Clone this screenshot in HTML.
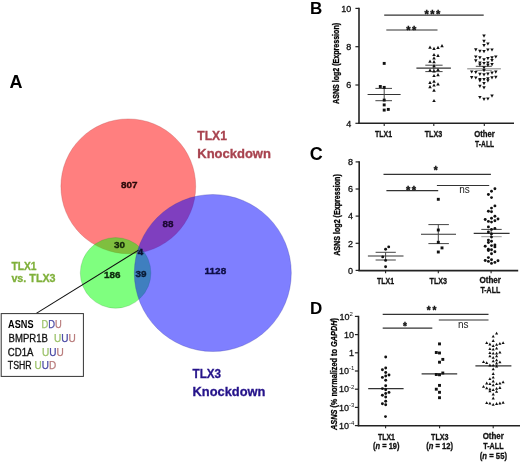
<!DOCTYPE html>
<html><head><meta charset="utf-8"><title>Figure</title>
<style>
html,body{margin:0;padding:0;background:#fff;}
body{width:520px;height:463px;overflow:hidden;}
svg{display:block;font-family:"Liberation Sans", Arial, sans-serif;}
</style></head><body>
<svg width="520" height="463" viewBox="0 0 520 463">
<rect width="520" height="463" fill="#fff"/>
<text x="9.6" y="87.7" font-size="18" font-weight="bold" fill="#000" text-anchor="start">A</text>
<circle cx="128.3" cy="186.3" r="67.4" fill="#ff0000" fill-opacity="0.5" stroke="#b04040" stroke-opacity="0.3" stroke-width="0.9"/>
<circle cx="115.6" cy="272.9" r="35.3" fill="#00ff00" fill-opacity="0.5" stroke="#309030" stroke-opacity="0.25" stroke-width="0.9"/>
<circle cx="212.8" cy="273" r="78.5" fill="#0000ff" fill-opacity="0.5" stroke="#3030a0" stroke-opacity="0.3" stroke-width="0.9"/>
<text x="129.3" y="187.85000000000002" font-size="9.9" font-weight="bold" fill="#2b0a0a" text-anchor="middle" stroke="#2b0a0a" stroke-width="0.35">807</text>
<text x="167.9" y="226.85000000000002" font-size="9.9" font-weight="bold" fill="#1c0833" text-anchor="middle" stroke="#1c0833" stroke-width="0.35">88</text>
<text x="215.4" y="274.15000000000003" font-size="9.9" font-weight="bold" fill="#0e0e45" text-anchor="middle" stroke="#0e0e45" stroke-width="0.35" textLength="21.6" lengthAdjust="spacingAndGlyphs">1128</text>
<text x="119.5" y="248.45000000000002" font-size="9.9" font-weight="bold" fill="#14260a" text-anchor="middle" stroke="#14260a" stroke-width="0.35">30</text>
<text x="140.6" y="255.25" font-size="9.9" font-weight="bold" fill="#0a1030" text-anchor="middle" stroke="#0a1030" stroke-width="0.35">4</text>
<text x="112.3" y="278.25" font-size="9.9" font-weight="bold" fill="#0c2a0c" text-anchor="middle" stroke="#0c2a0c" stroke-width="0.35">186</text>
<text x="141.0" y="277.05" font-size="9.9" font-weight="bold" fill="#0a1a33" text-anchor="middle" stroke="#0a1a33" stroke-width="0.35">39</text>
<text x="197.3" y="139.7" font-size="12" font-weight="bold" fill="#a8434f" text-anchor="start" stroke="#a8434f" stroke-width="0.3" textLength="29.6" lengthAdjust="spacingAndGlyphs">TLX1</text>
<text x="197.3" y="158.4" font-size="12" font-weight="bold" fill="#a8434f" text-anchor="start" stroke="#a8434f" stroke-width="0.3" textLength="73.6" lengthAdjust="spacingAndGlyphs">Knockdown</text>
<text x="11.4" y="269.5" font-size="10.8" font-weight="bold" fill="#7fb03a" text-anchor="start" stroke="#7fb03a" stroke-width="0.3" textLength="25.2" lengthAdjust="spacingAndGlyphs">TLX1</text>
<text x="11.4" y="282.3" font-size="10.8" font-weight="bold" fill="#7fb03a" text-anchor="start" stroke="#7fb03a" stroke-width="0.3" textLength="44.2" lengthAdjust="spacingAndGlyphs">vs. TLX3</text>
<text x="192.5" y="378.1" font-size="12.5" font-weight="bold" fill="#25138a" text-anchor="start" stroke="#25138a" stroke-width="0.3" textLength="28.6" lengthAdjust="spacingAndGlyphs">TLX3</text>
<text x="192.5" y="396.3" font-size="12.5" font-weight="bold" fill="#25138a" text-anchor="start" stroke="#25138a" stroke-width="0.3" textLength="73" lengthAdjust="spacingAndGlyphs">Knockdown</text>
<line x1="36.3" y1="313.4" x2="138.5" y2="250.1" stroke="#111" stroke-width="1.1"/>
<rect x="1.2" y="313.6" width="82.2" height="62.8" fill="#fff" stroke="#333" stroke-width="1"/>
<text x="8.1" y="328.3" font-size="10" font-weight="bold" fill="#000" text-anchor="start" textLength="25.4" lengthAdjust="spacingAndGlyphs">ASNS</text>
<text x="41.5" y="328.3" font-size="10" stroke-width="0.25" textLength="20.3" lengthAdjust="spacingAndGlyphs"><tspan fill="#9cc26a" stroke="#9cc26a">D</tspan><tspan fill="#4b4ba5" stroke="#4b4ba5">D</tspan><tspan fill="#b87b7b" stroke="#b87b7b">U</tspan></text>
<text x="8.6" y="341.8" font-size="10" font-weight="normal" fill="#111" text-anchor="start" stroke="#111" stroke-width="0.3" textLength="39.2" lengthAdjust="spacingAndGlyphs">BMPR1B</text>
<text x="54" y="341.8" font-size="10" stroke-width="0.25" textLength="21.8" lengthAdjust="spacingAndGlyphs"><tspan fill="#9cc26a" stroke="#9cc26a">U</tspan><tspan fill="#4b4ba5" stroke="#4b4ba5">U</tspan><tspan fill="#b87b7b" stroke="#b87b7b">U</tspan></text>
<text x="7.8" y="355.7" font-size="10" font-weight="normal" fill="#111" text-anchor="start" stroke="#111" stroke-width="0.3" textLength="25.6" lengthAdjust="spacingAndGlyphs">CD1A</text>
<text x="41.9" y="355.7" font-size="10" stroke-width="0.25" textLength="21.8" lengthAdjust="spacingAndGlyphs"><tspan fill="#9cc26a" stroke="#9cc26a">U</tspan><tspan fill="#4b4ba5" stroke="#4b4ba5">U</tspan><tspan fill="#b87b7b" stroke="#b87b7b">U</tspan></text>
<text x="7.8" y="369.0" font-size="10" font-weight="normal" fill="#111" text-anchor="start" stroke="#111" stroke-width="0.3" textLength="23.8" lengthAdjust="spacingAndGlyphs">TSHR</text>
<text x="34.6" y="369.0" font-size="10" stroke-width="0.25" textLength="21.6" lengthAdjust="spacingAndGlyphs"><tspan fill="#9cc26a" stroke="#9cc26a">U</tspan><tspan fill="#4b4ba5" stroke="#4b4ba5">U</tspan><tspan fill="#b87b7b" stroke="#b87b7b">D</tspan></text>
<text x="310.0" y="13.7" font-size="17" font-weight="bold" fill="#000" text-anchor="start">B</text>
<line x1="359" y1="7.800000000000001" x2="359" y2="123.89999999999999" stroke="#222" stroke-width="1.6"/>
<line x1="355.4" y1="8.4" x2="359" y2="8.4" stroke="#222" stroke-width="1.2"/>
<text x="351.2" y="11.600000000000001" font-size="9" text-anchor="end" fill="#111" stroke="#111" stroke-width="0.3">10</text>
<line x1="355.4" y1="46.7" x2="359" y2="46.7" stroke="#222" stroke-width="1.2"/>
<text x="351.2" y="49.900000000000006" font-size="9" text-anchor="end" fill="#111" stroke="#111" stroke-width="0.3">8</text>
<line x1="355.4" y1="85.0" x2="359" y2="85.0" stroke="#222" stroke-width="1.2"/>
<text x="351.2" y="88.2" font-size="9" text-anchor="end" fill="#111" stroke="#111" stroke-width="0.3">6</text>
<line x1="355.4" y1="123.3" x2="359" y2="123.3" stroke="#222" stroke-width="1.2"/>
<text x="351.2" y="126.5" font-size="9" text-anchor="end" fill="#111" stroke="#111" stroke-width="0.3">4</text>
<line x1="358.2" y1="123.3" x2="514" y2="123.3" stroke="#222" stroke-width="1.6"/>
<line x1="384.2" y1="123.3" x2="384.2" y2="125.89999999999999" stroke="#222" stroke-width="1.1"/>
<line x1="433.8" y1="123.3" x2="433.8" y2="125.89999999999999" stroke="#222" stroke-width="1.1"/>
<line x1="484.3" y1="123.3" x2="484.3" y2="125.89999999999999" stroke="#222" stroke-width="1.1"/>
<text transform="translate(339.4,63.4) rotate(-90)" x="0" y="0" font-size="8.3" font-weight="bold" stroke="#000" stroke-width="0.3" text-anchor="middle" textLength="81" lengthAdjust="spacingAndGlyphs">ASNS log2 (Expression)</text>
<text x="383.6" y="136.5" font-size="8.8" font-weight="bold" fill="#111" text-anchor="middle" stroke="#111" stroke-width="0.3" textLength="17" lengthAdjust="spacingAndGlyphs">TLX1</text>
<text x="433.5" y="136.5" font-size="8.8" font-weight="bold" fill="#111" text-anchor="middle" stroke="#111" stroke-width="0.3" textLength="17.5" lengthAdjust="spacingAndGlyphs">TLX3</text>
<text x="484.5" y="136.5" font-size="8.8" font-weight="bold" fill="#111" text-anchor="middle" stroke="#111" stroke-width="0.3" textLength="20.6" lengthAdjust="spacingAndGlyphs">Other</text>
<text x="484.6" y="146.7" font-size="8.8" font-weight="bold" fill="#111" text-anchor="middle" stroke="#111" stroke-width="0.3" textLength="19" lengthAdjust="spacingAndGlyphs">T-ALL</text>
<line x1="384.2" y1="15.2" x2="483.7" y2="15.2" stroke="#333" stroke-width="1.2"/>
<line x1="386.3" y1="30" x2="437.5" y2="30" stroke="#333" stroke-width="1.2"/>
<text x="433.15" y="18.27" font-size="11" font-weight="bold" text-anchor="middle" letter-spacing="1.5" fill="#111" stroke="#111" stroke-width="0.4">***</text>
<text x="411.95" y="33.72" font-size="11" font-weight="bold" text-anchor="middle" letter-spacing="1.5" fill="#111" stroke="#111" stroke-width="0.4">**</text>
<line x1="367.6" y1="94.5" x2="400.6" y2="94.5" stroke="#333" stroke-width="1.1"/>
<line x1="375.4" y1="88.4" x2="392" y2="88.4" stroke="#444" stroke-width="1.0"/>
<line x1="375.4" y1="100.7" x2="392" y2="100.7" stroke="#444" stroke-width="1.0"/>
<line x1="384.2" y1="88.4" x2="384.2" y2="100.7" stroke="#444" stroke-width="1.0"/>
<line x1="416.4" y1="68.1" x2="450.9" y2="68.1" stroke="#333" stroke-width="1.1"/>
<line x1="425.3" y1="65.2" x2="442.6" y2="65.2" stroke="#444" stroke-width="1.0"/>
<line x1="425.3" y1="71.6" x2="442.6" y2="71.6" stroke="#444" stroke-width="1.0"/>
<line x1="433.8" y1="65.2" x2="433.8" y2="71.6" stroke="#444" stroke-width="1.0"/>
<line x1="467.2" y1="68.75" x2="500.9" y2="68.75" stroke="#aaa" stroke-width="1.3"/>
<line x1="475.8" y1="66.3" x2="491.8" y2="66.3" stroke="#444" stroke-width="1.0"/>
<line x1="475.4" y1="70.5" x2="491.8" y2="70.5" stroke="#999" stroke-width="1.0"/>
<text x="309.8" y="160.3" font-size="18" font-weight="bold" fill="#000" text-anchor="start">C</text>
<line x1="359.2" y1="161.3" x2="359.2" y2="271.0" stroke="#222" stroke-width="1.6"/>
<line x1="355.59999999999997" y1="161.9" x2="359.2" y2="161.9" stroke="#222" stroke-width="1.2"/>
<text x="353.0" y="165.1" font-size="9" text-anchor="end" fill="#111" stroke="#111" stroke-width="0.3">8</text>
<line x1="355.59999999999997" y1="189.0" x2="359.2" y2="189.0" stroke="#222" stroke-width="1.2"/>
<text x="353.0" y="192.2" font-size="9" text-anchor="end" fill="#111" stroke="#111" stroke-width="0.3">6</text>
<line x1="355.59999999999997" y1="216.1" x2="359.2" y2="216.1" stroke="#222" stroke-width="1.2"/>
<text x="353.0" y="219.29999999999998" font-size="9" text-anchor="end" fill="#111" stroke="#111" stroke-width="0.3">4</text>
<line x1="355.59999999999997" y1="243.3" x2="359.2" y2="243.3" stroke="#222" stroke-width="1.2"/>
<text x="353.0" y="246.5" font-size="9" text-anchor="end" fill="#111" stroke="#111" stroke-width="0.3">2</text>
<line x1="355.59999999999997" y1="270.4" x2="359.2" y2="270.4" stroke="#222" stroke-width="1.2"/>
<text x="353.0" y="273.59999999999997" font-size="9" text-anchor="end" fill="#111" stroke="#111" stroke-width="0.3">0</text>
<line x1="358.3" y1="270.6" x2="518.2" y2="270.6" stroke="#222" stroke-width="1.6"/>
<line x1="385.6" y1="270.6" x2="385.6" y2="273.20000000000005" stroke="#222" stroke-width="1.1"/>
<line x1="438.3" y1="270.6" x2="438.3" y2="273.20000000000005" stroke="#222" stroke-width="1.1"/>
<line x1="491.1" y1="270.6" x2="491.1" y2="273.20000000000005" stroke="#222" stroke-width="1.1"/>
<text transform="translate(339.6,215.0) rotate(-90)" x="0" y="0" font-size="8.3" font-weight="bold" stroke="#000" stroke-width="0.3" text-anchor="middle" textLength="81.7" lengthAdjust="spacingAndGlyphs">ASNS log2 (Expression)</text>
<text x="385.6" y="283.5" font-size="8.8" font-weight="bold" fill="#111" text-anchor="middle" stroke="#111" stroke-width="0.3" textLength="17" lengthAdjust="spacingAndGlyphs">TLX1</text>
<text x="438.3" y="283.5" font-size="8.8" font-weight="bold" fill="#111" text-anchor="middle" stroke="#111" stroke-width="0.3" textLength="17.5" lengthAdjust="spacingAndGlyphs">TLX3</text>
<text x="490.2" y="282.9" font-size="8.8" font-weight="bold" fill="#111" text-anchor="middle" stroke="#111" stroke-width="0.3" textLength="21.6" lengthAdjust="spacingAndGlyphs">Other</text>
<text x="490.3" y="293.3" font-size="8.8" font-weight="bold" fill="#111" text-anchor="middle" stroke="#111" stroke-width="0.3" textLength="19.8" lengthAdjust="spacingAndGlyphs">T-ALL</text>
<line x1="383.5" y1="174.4" x2="490.9" y2="174.4" stroke="#333" stroke-width="1.2"/>
<line x1="386.4" y1="190.7" x2="438.2" y2="190.7" stroke="#333" stroke-width="1.2"/>
<line x1="436.9" y1="185.5" x2="489.2" y2="185.5" stroke="#333" stroke-width="1.2"/>
<text x="435.80" y="173.60" font-size="10" font-weight="bold" text-anchor="middle" letter-spacing="0" fill="#111" stroke="#111" stroke-width="0.4">*</text>
<text x="411.85" y="193.62" font-size="11" font-weight="bold" text-anchor="middle" letter-spacing="1.5" fill="#111" stroke="#111" stroke-width="0.4">**</text>
<text x="464.6" y="192.9" font-size="10" font-weight="normal" fill="#222" text-anchor="middle">ns</text>
<line x1="367.9" y1="256" x2="403.5" y2="256" stroke="#333" stroke-width="1.1"/>
<line x1="375.6" y1="252.3" x2="395.8" y2="252.3" stroke="#444" stroke-width="1.0"/>
<line x1="375.6" y1="260" x2="395.8" y2="260" stroke="#444" stroke-width="1.0"/>
<line x1="385.6" y1="252.3" x2="385.6" y2="260" stroke="#444" stroke-width="1.0"/>
<line x1="421" y1="234.3" x2="456" y2="234.3" stroke="#333" stroke-width="1.1"/>
<line x1="428.4" y1="224.6" x2="448.9" y2="224.6" stroke="#444" stroke-width="1.0"/>
<line x1="428.4" y1="243.6" x2="448.9" y2="243.6" stroke="#444" stroke-width="1.0"/>
<line x1="438.3" y1="224.6" x2="438.3" y2="243.6" stroke="#444" stroke-width="1.0"/>
<line x1="473.7" y1="233.4" x2="509.6" y2="233.4" stroke="#333" stroke-width="1.1"/>
<line x1="481.3" y1="229.4" x2="501.7" y2="229.4" stroke="#444" stroke-width="1.0"/>
<line x1="481.3" y1="236.7" x2="501.7" y2="236.7" stroke="#999" stroke-width="1.0"/>
<line x1="491.1" y1="229.4" x2="491.1" y2="236.7" stroke="#444" stroke-width="1.0"/>
<text x="310.1" y="313.7" font-size="17" font-weight="bold" fill="#000" text-anchor="start">D</text>
<line x1="358.5" y1="315.79999999999995" x2="358.5" y2="426.2" stroke="#222" stroke-width="1.6"/>
<line x1="354.9" y1="316.4" x2="358.5" y2="316.4" stroke="#222" stroke-width="1.2"/>
<text x="349.59999999999997" y="319.59999999999997" font-size="9" text-anchor="end" fill="#111" stroke="#111" stroke-width="0.3">10</text><text x="349.59999999999997" y="315.79999999999995" font-size="6" text-anchor="start" fill="#111">2</text>
<line x1="354.9" y1="334.59999999999997" x2="358.5" y2="334.59999999999997" stroke="#222" stroke-width="1.2"/>
<text x="353.9" y="337.79999999999995" font-size="9" text-anchor="end" fill="#111" stroke="#111" stroke-width="0.3">10</text>
<line x1="354.9" y1="352.79999999999995" x2="358.5" y2="352.79999999999995" stroke="#222" stroke-width="1.2"/>
<text x="353.9" y="355.99999999999994" font-size="9" text-anchor="end" fill="#111" stroke="#111" stroke-width="0.3">1</text>
<line x1="354.9" y1="371.0" x2="358.5" y2="371.0" stroke="#222" stroke-width="1.2"/>
<text x="349.0" y="374.2" font-size="9" text-anchor="end" fill="#111" stroke="#111" stroke-width="0.3">10</text><text x="349.0" y="370.4" font-size="6" text-anchor="start" fill="#111">-1</text>
<line x1="354.9" y1="389.2" x2="358.5" y2="389.2" stroke="#222" stroke-width="1.2"/>
<text x="349.0" y="392.4" font-size="9" text-anchor="end" fill="#111" stroke="#111" stroke-width="0.3">10</text><text x="349.0" y="388.59999999999997" font-size="6" text-anchor="start" fill="#111">-2</text>
<line x1="354.9" y1="407.4" x2="358.5" y2="407.4" stroke="#222" stroke-width="1.2"/>
<text x="349.0" y="410.59999999999997" font-size="9" text-anchor="end" fill="#111" stroke="#111" stroke-width="0.3">10</text><text x="349.0" y="406.79999999999995" font-size="6" text-anchor="start" fill="#111">-3</text>
<line x1="354.9" y1="425.59999999999997" x2="358.5" y2="425.59999999999997" stroke="#222" stroke-width="1.2"/>
<text x="349.0" y="428.79999999999995" font-size="9" text-anchor="end" fill="#111" stroke="#111" stroke-width="0.3">10</text><text x="349.0" y="424.99999999999994" font-size="6" text-anchor="start" fill="#111">-4</text>
<line x1="357.7" y1="425.7" x2="520" y2="425.7" stroke="#222" stroke-width="1.6"/>
<line x1="385.6" y1="425.7" x2="385.6" y2="428.3" stroke="#222" stroke-width="1.1"/>
<line x1="439.6" y1="425.7" x2="439.6" y2="428.3" stroke="#222" stroke-width="1.1"/>
<line x1="493.2" y1="425.7" x2="493.2" y2="428.3" stroke="#222" stroke-width="1.1"/>
<text transform="translate(336.9,374) rotate(-90)" x="0" y="0" font-size="8.6" font-weight="bold" stroke="#000" stroke-width="0.25" text-anchor="middle" textLength="112" lengthAdjust="spacingAndGlyphs"><tspan font-style="italic">ASNS</tspan> (% normalized to <tspan font-style="italic">GAPDH</tspan>)</text>
<text x="386.4" y="439.7" font-size="8.8" font-weight="bold" fill="#111" text-anchor="middle" stroke="#111" stroke-width="0.3" textLength="17" lengthAdjust="spacingAndGlyphs">TLX1</text>
<text x="386.3" y="449.2" font-size="8.8" font-weight="bold" stroke="#111" stroke-width="0.3" text-anchor="middle" textLength="26.5" lengthAdjust="spacingAndGlyphs" fill="#111">(<tspan font-style="italic">n</tspan> = 19)</text>
<text x="439.8" y="439.7" font-size="8.8" font-weight="bold" fill="#111" text-anchor="middle" stroke="#111" stroke-width="0.3" textLength="17.5" lengthAdjust="spacingAndGlyphs">TLX3</text>
<text x="439.7" y="449.2" font-size="8.8" font-weight="bold" stroke="#111" stroke-width="0.3" text-anchor="middle" textLength="26.8" lengthAdjust="spacingAndGlyphs" fill="#111">(<tspan font-style="italic">n</tspan> = 12)</text>
<text x="493.3" y="438.6" font-size="8.8" font-weight="bold" fill="#111" text-anchor="middle" stroke="#111" stroke-width="0.3" textLength="21.2" lengthAdjust="spacingAndGlyphs">Other</text>
<text x="493.4" y="449.0" font-size="8.8" font-weight="bold" fill="#111" text-anchor="middle" stroke="#111" stroke-width="0.3" textLength="20.4" lengthAdjust="spacingAndGlyphs">T-ALL</text>
<text x="493.4" y="459.3" font-size="8.8" font-weight="bold" stroke="#111" stroke-width="0.3" text-anchor="middle" textLength="27.2" lengthAdjust="spacingAndGlyphs" fill="#111">(<tspan font-style="italic">n</tspan> = 55)</text>
<line x1="382.7" y1="314.3" x2="488.5" y2="314.3" stroke="#333" stroke-width="1.2"/>
<line x1="382.7" y1="328.2" x2="432.3" y2="328.2" stroke="#333" stroke-width="1.2"/>
<line x1="438.8" y1="320" x2="488.5" y2="320" stroke="#333" stroke-width="1.2"/>
<text x="432.45" y="314.40" font-size="10" font-weight="bold" text-anchor="middle" letter-spacing="1.9" fill="#111" stroke="#111" stroke-width="0.4">**</text>
<text x="405.00" y="330.00" font-size="10" font-weight="bold" text-anchor="middle" letter-spacing="0" fill="#111" stroke="#111" stroke-width="0.4">*</text>
<text x="463.3" y="328.0" font-size="10" font-weight="normal" fill="#222" text-anchor="middle">ns</text>
<line x1="368.2" y1="388.6" x2="403.6" y2="388.6" stroke="#333" stroke-width="1.3"/>
<line x1="421.6" y1="373.9" x2="457.2" y2="373.9" stroke="#333" stroke-width="1.3"/>
<line x1="475.4" y1="365.9" x2="511.4" y2="365.9" stroke="#333" stroke-width="1.3"/>
<rect x="382.75" y="61.95" width="2.9" height="2.9" fill="#111"/>
<rect x="378.85" y="85.05" width="2.9" height="2.9" fill="#111"/>
<rect x="382.75" y="85.95" width="2.9" height="2.9" fill="#111"/>
<rect x="382.75" y="98.65" width="2.9" height="2.9" fill="#111"/>
<rect x="382.75" y="103.45" width="2.9" height="2.9" fill="#111"/>
<rect x="382.75" y="108.65" width="2.9" height="2.9" fill="#111"/>
<rect x="386.85" y="107.95" width="2.9" height="2.9" fill="#111"/>
<polygon points="428.25,48.68 431.75,48.68 430.00,45.52" fill="#111"/>
<polygon points="432.25,49.98 435.75,49.98 434.00,46.82" fill="#111"/>
<polygon points="436.25,48.98 439.75,48.98 438.00,45.82" fill="#111"/>
<polygon points="440.25,47.28 443.75,47.28 442.00,44.12" fill="#111"/>
<polygon points="432.25,56.08 435.75,56.08 434.00,52.92" fill="#111"/>
<polygon points="436.25,56.88 439.75,56.88 438.00,53.72" fill="#111"/>
<polygon points="432.25,59.48 435.75,59.48 434.00,56.32" fill="#111"/>
<polygon points="428.25,62.78 431.75,62.78 430.00,59.62" fill="#111"/>
<polygon points="432.25,63.28 435.75,63.28 434.00,60.12" fill="#111"/>
<polygon points="432.25,67.28 435.75,67.28 434.00,64.12" fill="#111"/>
<polygon points="428.25,71.58 431.75,71.58 430.00,68.42" fill="#111"/>
<polygon points="432.25,72.48 435.75,72.48 434.00,69.33" fill="#111"/>
<polygon points="436.25,71.08 439.75,71.08 438.00,67.92" fill="#111"/>
<polygon points="432.25,77.08 435.75,77.08 434.00,73.92" fill="#111"/>
<polygon points="436.25,76.28 439.75,76.28 438.00,73.12" fill="#111"/>
<polygon points="432.25,82.78 435.75,82.78 434.00,79.62" fill="#111"/>
<polygon points="428.25,83.98 431.75,83.98 430.00,80.83" fill="#111"/>
<polygon points="436.25,85.38 439.75,85.38 438.00,82.22" fill="#111"/>
<polygon points="432.25,86.58 435.75,86.58 434.00,83.42" fill="#111"/>
<polygon points="428.25,88.28 431.75,88.28 430.00,85.12" fill="#111"/>
<polygon points="432.25,91.78 435.75,91.78 434.00,88.62" fill="#111"/>
<polygon points="432.25,102.08 435.75,102.08 434.00,98.92" fill="#111"/>
<polygon points="482.25,34.62 485.75,34.62 484.00,37.78" fill="#111"/>
<polygon points="482.25,39.82 485.75,39.82 484.00,42.98" fill="#111"/>
<polygon points="486.15,42.42 489.65,42.42 487.90,45.58" fill="#111"/>
<polygon points="482.25,44.12 485.75,44.12 484.00,47.28" fill="#111"/>
<polygon points="474.05,48.32 477.55,48.32 475.80,51.48" fill="#111"/>
<polygon points="478.15,49.82 481.65,49.82 479.90,52.98" fill="#111"/>
<polygon points="482.25,50.02 485.75,50.02 484.00,53.18" fill="#111"/>
<polygon points="486.15,48.42 489.65,48.42 487.90,51.58" fill="#111"/>
<polygon points="490.25,48.42 493.75,48.42 492.00,51.58" fill="#111"/>
<polygon points="474.05,55.42 477.55,55.42 475.80,58.58" fill="#111"/>
<polygon points="478.15,56.22 481.65,56.22 479.90,59.38" fill="#111"/>
<polygon points="482.25,58.22 485.75,58.22 484.00,61.38" fill="#111"/>
<polygon points="486.15,57.12 489.65,57.12 487.90,60.28" fill="#111"/>
<polygon points="490.25,56.22 493.75,56.22 492.00,59.38" fill="#111"/>
<polygon points="494.05,55.42 497.55,55.42 495.80,58.58" fill="#111"/>
<polygon points="474.05,59.32 477.55,59.32 475.80,62.48" fill="#111"/>
<polygon points="478.15,61.42 481.65,61.42 479.90,64.58" fill="#111"/>
<polygon points="482.25,61.92 485.75,61.92 484.00,65.08" fill="#111"/>
<polygon points="486.15,61.42 489.65,61.42 487.90,64.58" fill="#111"/>
<polygon points="490.25,59.12 493.75,59.12 492.00,62.28" fill="#111"/>
<polygon points="478.15,63.42 481.65,63.42 479.90,66.58" fill="#111"/>
<polygon points="486.15,63.83 489.65,63.83 487.90,66.98" fill="#111"/>
<polygon points="490.25,63.02 493.75,63.02 492.00,66.17" fill="#111"/>
<polygon points="482.25,66.33 485.75,66.33 484.00,69.48" fill="#111"/>
<polygon points="482.25,69.12 485.75,69.12 484.00,72.28" fill="#111"/>
<polygon points="469.95,70.42 473.45,70.42 471.70,73.58" fill="#111"/>
<polygon points="474.05,70.92 477.55,70.92 475.80,74.08" fill="#111"/>
<polygon points="478.15,72.83 481.65,72.83 479.90,75.98" fill="#111"/>
<polygon points="482.25,73.22 485.75,73.22 484.00,76.38" fill="#111"/>
<polygon points="486.15,72.62 489.65,72.62 487.90,75.78" fill="#111"/>
<polygon points="490.25,71.52 493.75,71.52 492.00,74.67" fill="#111"/>
<polygon points="494.05,70.62 497.55,70.62 495.80,73.78" fill="#111"/>
<polygon points="469.95,76.12 473.45,76.12 471.70,79.28" fill="#111"/>
<polygon points="474.05,76.42 477.55,76.42 475.80,79.58" fill="#111"/>
<polygon points="478.15,78.02 481.65,78.02 479.90,81.17" fill="#111"/>
<polygon points="478.15,79.22 481.65,79.22 479.90,82.38" fill="#111"/>
<polygon points="482.25,78.12 485.75,78.12 484.00,81.28" fill="#111"/>
<polygon points="486.15,77.33 489.65,77.33 487.90,80.48" fill="#111"/>
<polygon points="486.15,79.22 489.65,79.22 487.90,82.38" fill="#111"/>
<polygon points="490.25,76.22 493.75,76.22 492.00,79.38" fill="#111"/>
<polygon points="494.05,75.83 497.55,75.83 495.80,78.98" fill="#111"/>
<polygon points="482.25,82.12 485.75,82.12 484.00,85.28" fill="#111"/>
<polygon points="478.15,84.72 481.65,84.72 479.90,87.88" fill="#111"/>
<polygon points="482.25,86.22 485.75,86.22 484.00,89.38" fill="#111"/>
<polygon points="478.15,95.92 481.65,95.92 479.90,99.08" fill="#111"/>
<polygon points="482.25,97.83 485.75,97.83 484.00,100.98" fill="#111"/>
<polygon points="486.15,97.42 489.65,97.42 487.90,100.58" fill="#111"/>
<polygon points="490.25,94.52 493.75,94.52 492.00,97.67" fill="#111"/>
<circle cx="388.7" cy="246.9" r="1.45" fill="#111"/>
<circle cx="385.6" cy="249.2" r="1.45" fill="#111"/>
<circle cx="382.7" cy="256.9" r="1.45" fill="#111"/>
<circle cx="385.6" cy="260.4" r="1.45" fill="#111"/>
<circle cx="385.6" cy="266.7" r="1.45" fill="#111"/>
<rect x="436.85" y="197.85" width="2.9" height="2.9" fill="#111"/>
<rect x="436.85" y="228.55" width="2.9" height="2.9" fill="#111"/>
<rect x="436.85" y="240.85" width="2.9" height="2.9" fill="#111"/>
<rect x="440.55" y="246.45" width="2.9" height="2.9" fill="#111"/>
<rect x="436.85" y="250.55" width="2.9" height="2.9" fill="#111"/>
<circle cx="494.9" cy="188.7" r="1.45" fill="#111"/>
<circle cx="491.5" cy="191.3" r="1.45" fill="#111"/>
<circle cx="488.4" cy="194.5" r="1.45" fill="#111"/>
<circle cx="491.5" cy="197.6" r="1.45" fill="#111"/>
<circle cx="494.9" cy="205.9" r="1.45" fill="#111"/>
<circle cx="491.5" cy="208.1" r="1.45" fill="#111"/>
<circle cx="488.4" cy="211.2" r="1.45" fill="#111"/>
<circle cx="491.5" cy="211.7" r="1.45" fill="#111"/>
<circle cx="494.9" cy="216.3" r="1.45" fill="#111"/>
<circle cx="491.5" cy="218.2" r="1.45" fill="#111"/>
<circle cx="485.2" cy="219.5" r="1.45" fill="#111"/>
<circle cx="498" cy="219" r="1.45" fill="#111"/>
<circle cx="488.4" cy="221.4" r="1.45" fill="#111"/>
<circle cx="491.5" cy="222.1" r="1.45" fill="#111"/>
<circle cx="494.9" cy="220.8" r="1.45" fill="#111"/>
<circle cx="488.4" cy="226.9" r="1.45" fill="#111"/>
<circle cx="491.5" cy="229.4" r="1.45" fill="#111"/>
<circle cx="494.9" cy="228.4" r="1.45" fill="#111"/>
<circle cx="488.4" cy="232" r="1.45" fill="#111"/>
<circle cx="491.5" cy="233.9" r="1.45" fill="#111"/>
<circle cx="491.5" cy="237.1" r="1.45" fill="#111"/>
<circle cx="488.4" cy="240.1" r="1.45" fill="#111"/>
<circle cx="491.5" cy="241.3" r="1.45" fill="#111"/>
<circle cx="488.4" cy="242.5" r="1.45" fill="#111"/>
<circle cx="485.2" cy="246.2" r="1.45" fill="#111"/>
<circle cx="491.5" cy="245.6" r="1.45" fill="#111"/>
<circle cx="494.9" cy="244.9" r="1.45" fill="#111"/>
<circle cx="494.9" cy="246.9" r="1.45" fill="#111"/>
<circle cx="488.4" cy="249.3" r="1.45" fill="#111"/>
<circle cx="488.4" cy="250.5" r="1.45" fill="#111"/>
<circle cx="491.5" cy="249.8" r="1.45" fill="#111"/>
<circle cx="494.9" cy="251.7" r="1.45" fill="#111"/>
<circle cx="491.5" cy="253.7" r="1.45" fill="#111"/>
<circle cx="488.4" cy="257.6" r="1.45" fill="#111"/>
<circle cx="485.2" cy="260.5" r="1.45" fill="#111"/>
<circle cx="488.4" cy="261.4" r="1.45" fill="#111"/>
<circle cx="491.5" cy="259.8" r="1.45" fill="#111"/>
<circle cx="491.5" cy="263.4" r="1.45" fill="#111"/>
<circle cx="494.9" cy="262.4" r="1.45" fill="#111"/>
<circle cx="498" cy="260.8" r="1.45" fill="#111"/>
<circle cx="385.7" cy="357" r="1.45" fill="#111"/>
<circle cx="382.4" cy="369.7" r="1.45" fill="#111"/>
<circle cx="385.7" cy="368" r="1.45" fill="#111"/>
<circle cx="385.7" cy="372.5" r="1.45" fill="#111"/>
<circle cx="382.4" cy="377.4" r="1.45" fill="#111"/>
<circle cx="385.7" cy="376" r="1.45" fill="#111"/>
<circle cx="389" cy="375" r="1.45" fill="#111"/>
<circle cx="385.7" cy="380.2" r="1.45" fill="#111"/>
<circle cx="385.7" cy="385.8" r="1.45" fill="#111"/>
<circle cx="382.4" cy="388.6" r="1.45" fill="#111"/>
<circle cx="385.7" cy="389.7" r="1.45" fill="#111"/>
<circle cx="389" cy="392.4" r="1.45" fill="#111"/>
<circle cx="385.7" cy="393.5" r="1.45" fill="#111"/>
<circle cx="382.4" cy="395.2" r="1.45" fill="#111"/>
<circle cx="385.7" cy="397" r="1.45" fill="#111"/>
<circle cx="385.7" cy="401.3" r="1.45" fill="#111"/>
<circle cx="382.4" cy="403.7" r="1.45" fill="#111"/>
<circle cx="385.7" cy="404.8" r="1.45" fill="#111"/>
<circle cx="385.5" cy="416.6" r="1.45" fill="#111"/>
<rect x="438.05" y="342.45" width="2.9" height="2.9" fill="#111"/>
<rect x="434.85" y="351.05" width="2.9" height="2.9" fill="#111"/>
<rect x="438.05" y="351.55" width="2.9" height="2.9" fill="#111"/>
<rect x="441.35" y="357.95" width="2.9" height="2.9" fill="#111"/>
<rect x="438.05" y="360.75" width="2.9" height="2.9" fill="#111"/>
<rect x="434.85" y="373.05" width="2.9" height="2.9" fill="#111"/>
<rect x="438.05" y="373.35" width="2.9" height="2.9" fill="#111"/>
<rect x="441.35" y="371.55" width="2.9" height="2.9" fill="#111"/>
<rect x="438.05" y="383.95" width="2.9" height="2.9" fill="#111"/>
<rect x="434.85" y="387.75" width="2.9" height="2.9" fill="#111"/>
<rect x="438.05" y="390.85" width="2.9" height="2.9" fill="#111"/>
<rect x="438.05" y="396.25" width="2.9" height="2.9" fill="#111"/>
<polygon points="495.05,334.59 498.15,334.59 496.60,331.81" fill="#111"/>
<polygon points="491.65,337.59 494.75,337.59 493.20,334.81" fill="#111"/>
<polygon points="491.65,341.89 494.75,341.89 493.20,339.11" fill="#111"/>
<polygon points="485.15,344.09 488.25,344.09 486.70,341.31" fill="#111"/>
<polygon points="488.35,345.39 491.45,345.39 489.90,342.61" fill="#111"/>
<polygon points="491.65,347.09 494.75,347.09 493.20,344.31" fill="#111"/>
<polygon points="495.05,345.79 498.15,345.79 496.60,343.00" fill="#111"/>
<polygon points="498.35,344.79 501.45,344.79 499.90,342.00" fill="#111"/>
<polygon points="501.55,344.09 504.65,344.09 503.10,341.31" fill="#111"/>
<polygon points="488.35,350.09 491.45,350.09 489.90,347.31" fill="#111"/>
<polygon points="491.65,350.59 494.75,350.59 493.20,347.81" fill="#111"/>
<polygon points="495.05,349.50 498.15,349.50 496.60,346.71" fill="#111"/>
<polygon points="488.35,354.00 491.45,354.00 489.90,351.21" fill="#111"/>
<polygon points="491.65,354.59 494.75,354.59 493.20,351.81" fill="#111"/>
<polygon points="495.05,354.50 498.15,354.50 496.60,351.71" fill="#111"/>
<polygon points="498.35,353.59 501.45,353.59 499.90,350.81" fill="#111"/>
<polygon points="488.35,357.19 491.45,357.19 489.90,354.41" fill="#111"/>
<polygon points="491.65,358.79 494.75,358.79 493.20,356.00" fill="#111"/>
<polygon points="495.05,357.19 498.15,357.19 496.60,354.41" fill="#111"/>
<polygon points="491.65,362.19 494.75,362.19 493.20,359.41" fill="#111"/>
<polygon points="495.05,361.19 498.15,361.19 496.60,358.41" fill="#111"/>
<polygon points="481.95,363.09 485.05,363.09 483.50,360.31" fill="#111"/>
<polygon points="485.15,364.09 488.25,364.09 486.70,361.31" fill="#111"/>
<polygon points="495.05,364.39 498.15,364.39 496.60,361.61" fill="#111"/>
<polygon points="498.35,363.29 501.45,363.29 499.90,360.50" fill="#111"/>
<polygon points="488.35,366.39 491.45,366.39 489.90,363.61" fill="#111"/>
<polygon points="491.65,366.59 494.75,366.59 493.20,363.81" fill="#111"/>
<polygon points="495.05,367.39 498.15,367.39 496.60,364.61" fill="#111"/>
<polygon points="491.65,370.29 494.75,370.29 493.20,367.50" fill="#111"/>
<polygon points="491.65,374.89 494.75,374.89 493.20,372.11" fill="#111"/>
<polygon points="491.65,378.50 494.75,378.50 493.20,375.71" fill="#111"/>
<polygon points="488.35,380.09 491.45,380.09 489.90,377.31" fill="#111"/>
<polygon points="491.65,382.39 494.75,382.39 493.20,379.61" fill="#111"/>
<polygon points="485.15,384.39 488.25,384.39 486.70,381.61" fill="#111"/>
<polygon points="488.35,385.00 491.45,385.00 489.90,382.21" fill="#111"/>
<polygon points="491.65,386.29 494.75,386.29 493.20,383.50" fill="#111"/>
<polygon points="495.05,385.00 498.15,385.00 496.60,382.21" fill="#111"/>
<polygon points="498.35,384.59 501.45,384.59 499.90,381.81" fill="#111"/>
<polygon points="501.55,383.29 504.65,383.29 503.10,380.50" fill="#111"/>
<polygon points="481.95,387.79 485.05,387.79 483.50,385.00" fill="#111"/>
<polygon points="485.15,389.29 488.25,389.29 486.70,386.50" fill="#111"/>
<polygon points="488.35,390.19 491.45,390.19 489.90,387.41" fill="#111"/>
<polygon points="491.65,391.00 494.75,391.00 493.20,388.21" fill="#111"/>
<polygon points="495.05,389.69 498.15,389.69 496.60,386.91" fill="#111"/>
<polygon points="498.35,388.89 501.45,388.89 499.90,386.11" fill="#111"/>
<polygon points="488.35,392.29 491.45,392.29 489.90,389.50" fill="#111"/>
<polygon points="495.05,392.79 498.15,392.79 496.60,390.00" fill="#111"/>
<polygon points="491.65,395.39 494.75,395.39 493.20,392.61" fill="#111"/>
<polygon points="491.65,399.39 494.75,399.39 493.20,396.61" fill="#111"/>
<polygon points="485.15,404.00 488.25,404.00 486.70,401.21" fill="#111"/>
<polygon points="488.35,404.59 491.45,404.59 489.90,401.81" fill="#111"/>
<polygon points="491.65,405.69 494.75,405.69 493.20,402.91" fill="#111"/>
<polygon points="495.05,404.89 498.15,404.89 496.60,402.11" fill="#111"/>
<polygon points="498.35,404.39 501.45,404.39 499.90,401.61" fill="#111"/>
<polygon points="501.55,403.69 504.65,403.69 503.10,400.91" fill="#111"/>
</svg>
</body></html>
